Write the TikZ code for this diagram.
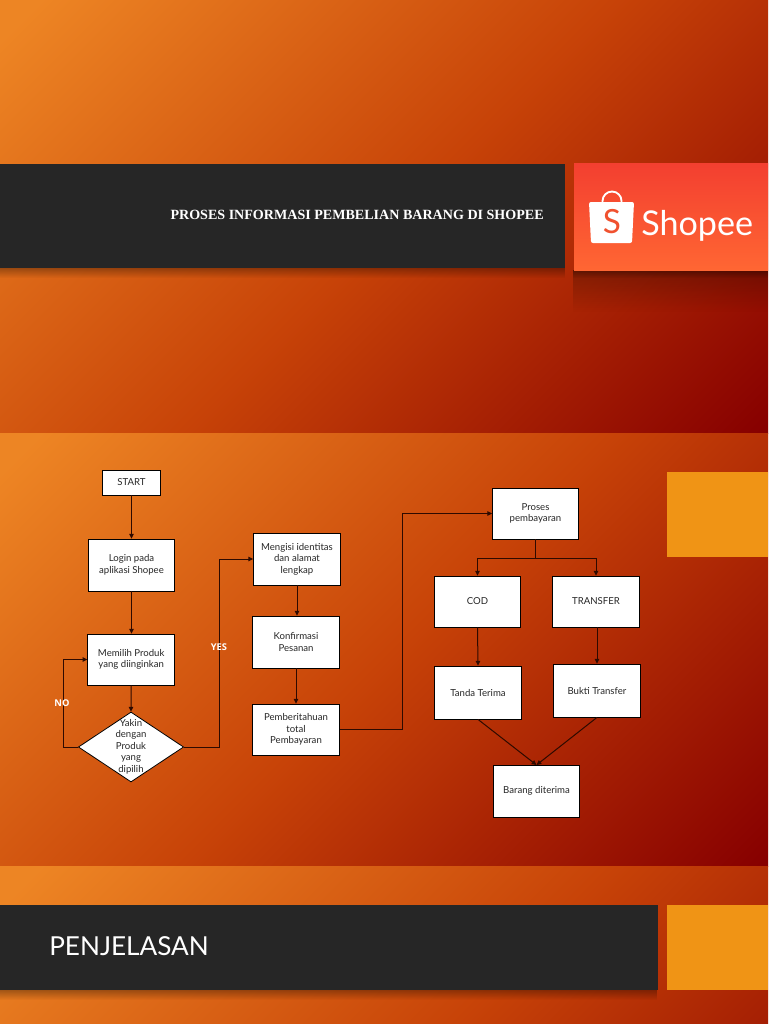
\documentclass[tikz,border=0pt]{standalone}
\usepackage{fontspec}
\setmainfont{Lato}
\newfontfamily\titlefont{Liberation Serif}
\newfontfamily\labelfont{Open Sans}
\usetikzlibrary{shapes.geometric,arrows.meta,fadings}
\definecolor{barcol}{HTML}{262626}
\definecolor{squarecol}{HTML}{F09415}
\definecolor{linecol}{HTML}{2E0A00}
\definecolor{logotop}{HTML}{F33F30}
\definecolor{logobot}{HTML}{FF6633}
\definecolor{bagS}{HTML}{F0512F}
\pgfdeclarehorizontalshading{slidegrad}{100bp}{
 rgb(0bp)=(0.93,0.52,0.14);
 rgb(17bp)=(0.93,0.52,0.14);
 rgb(51bp)=(0.78,0.26,0.03);
 rgb(85bp)=(0.53,0,0);
 rgb(100bp)=(0.53,0,0)}
\tikzset{
 x=0.75pt,y=-0.75pt,
 slide/.style={shading=slidegrad,shading angle=-45},
 flowbox/.style={draw=black,line width=0.6pt,fill=white,inner sep=0pt,align=center,font=\fontsize{7.2}{8.6}\selectfont,text=black!85},
 flowtext/.style={inner sep=0pt,align=center,font=\fontsize{7.2}{8.6}\selectfont,text=black!85},
 flowarrow/.style={draw=linecol,line width=0.75pt,-{Triangle[length=3.6pt,width=3.4pt]}},
 flowline/.style={draw=linecol,line width=0.75pt},
 branchlabel/.style={inner sep=0pt,text=white,font=\labelfont\fontsize{7}{8}\selectfont\bfseries},
 bar/.style={fill=barcol,draw=none},
 square/.style={fill=squarecol,draw=none},
 shadowstrip/.style={fill=black,opacity=0.3,path fading=south,draw=none},
}
\begin{document}
\begin{tikzpicture}
\useasboundingbox (0,0) rectangle (768,1024);
\begin{scope}
\clip (0,0) rectangle (768,1024);
\shade[slide] (0,0) rectangle (768,433);
\shade[slide] (0,433) rectangle (768,866);
\shade[slide] (0,866) rectangle (768,1299);
\end{scope}
% top band
\fill[shadowstrip] (0,268) rectangle (565,278);
\fill[bar] (0,164) rectangle (565,268);
\node[inner sep=0pt,anchor=east,text=white,font=\titlefont\fontsize{10.55}{12}\selectfont\bfseries] (title) at (544,215) {PROSES INFORMASI PEMBELIAN BARANG DI SHOPEE};
% logo
\fill[black,opacity=0.25,path fading=south] (573,270) rectangle (768,312);
\fill[black,opacity=0.3,path fading=south] (573,270) rectangle (768,278);
\shade[top color=logotop,bottom color=logobot,draw=none] (574,163) rectangle (768,270);
\draw[white,line width=1.4pt] (602.5,206) -- (602.5,201) arc[start angle=180,end angle=360,x radius=9.5,y radius=9.5] -- (621.5,206);
\fill[white,rounded corners=1.5pt] (589,202) -- (634,202) -- (632,243) -- (591,243) -- cycle;
\node[inner sep=0pt,text=bagS,font=\fontsize{25}{28}\selectfont] (bagletter) at (612,222) {S};
\node[inner sep=0pt,anchor=base west,text=white,font=\fontsize{25.6}{30}\selectfont] (brand) at (641,235) {Shopee};
% orange squares and bottom band
\fill[square] (667,472) rectangle (768,557);
\fill[square] (667,905) rectangle (768,990);
\fill[shadowstrip] (0,990) rectangle (658,1000);
\fill[bar] (0,905) rectangle (658,990);
\node[inner sep=0pt,anchor=west,text=white,font=\fontsize{19.6}{22}\selectfont] (heading) at (49,946) {PENJELASAN};
\begin{scope}[shift={(-0.5,0)}]
% flowchart nodes
\node[flowbox,minimum width=44pt,minimum height=18.75pt] (start) at (132,482.5) {START};
\node[flowbox,minimum width=64.5pt,minimum height=39pt] (login) at (132,565) {Login pada\\aplikasi Shopee};
\node[flowbox,minimum width=65.25pt,minimum height=38.25pt] (pilih) at (131.7,659.5) {Memilih Produk\\yang diinginkan};
\node[diamond,draw=black,line width=0.6pt,fill=white,inner sep=0pt,aspect=1.5,minimum width=79pt,minimum height=52.5pt] (yakin) at (131.5,747) {};
\node[flowtext] (yakintext) at (131.5,746.5) {Yakin\\dengan\\Produk\\yang\\dipilih};
\node[flowbox,minimum width=65.25pt,minimum height=39pt] (isi) at (297.5,559) {Mengisi identitas\\dan alamat\\lengkap};
\node[flowbox,minimum width=65.25pt,minimum height=39pt] (konf) at (296.5,642) {Konfirmasi\\Pesanan};
\node[flowbox,minimum width=65.25pt,minimum height=38.25pt] (total) at (296.5,729.5) {Pemberitahuan\\total\\Pembayaran};
\node[flowbox,minimum width=64.5pt,minimum height=38.25pt] (bayar) at (536,513.5) {Proses\\pembayaran};
\node[flowbox,minimum width=64.5pt,minimum height=38.25pt] (cod) at (478,601.5) {COD};
\node[flowbox,minimum width=65.25pt,minimum height=38.25pt] (tf) at (596.5,601.5) {TRANSFER};
\node[flowbox,minimum width=65.25pt,minimum height=39.75pt] (tanda) at (478.5,692.5) {Tanda Terima};
\node[flowbox,minimum width=65.25pt,minimum height=39.75pt] (bukti) at (597.5,690.5) {Bukti Transfer};
\node[flowbox,minimum width=64.5pt,minimum height=39pt] (barang) at (537,791) {Barang diterima};
% helper coordinates
\coordinate (noA) at (64,747);
\coordinate (noB) at (64,659.5);
\coordinate (yesA) at (220,747);
\coordinate (yesB) at (220,559);
\coordinate (payA) at (403,729.5);
\coordinate (payB) at (403,513.5);
\coordinate (split) at (536,558);
\coordinate (splitL) at (478,558);
\coordinate (splitR) at (596.5,558);
\coordinate (merge) at (537,765);
% connectors
\draw[flowarrow] (start.south) -- (login.north);
\draw[flowarrow] (login.south) -- (pilih.north -| login.south);
\draw[flowarrow] (pilih.south) -- (yakin.north);
\draw[flowarrow] (yakin.west) -- (noA) -- (noB) -- (pilih.west);
\draw[flowarrow] (yakin.east) -- (yesA) -- (yesB) -- (isi.west);
\draw[flowarrow] (isi.south) -- (konf.north -| isi.south);
\draw[flowarrow] (konf.south) -- (total.north);
\draw[flowarrow] (total.east) -- (payA) -- (payB) -- (bayar.west);
\draw[flowline] (bayar.south) -- (split);
\draw[flowarrow] (split) -- (splitL) -- (cod.north);
\draw[flowarrow] (split) -- (splitR) -- (tf.north);
\draw[flowarrow] (cod.south) -- (tanda.north);
\draw[flowarrow] (tf.south -| bukti.north) -- (bukti.north);
\draw[flowarrow] (tanda.south) -- (merge);
\draw[flowarrow] (bukti.south) -- (merge);
% labels sit on top of the connectors
\node[branchlabel] (yes) at (219.5,647) {YES};
\node[branchlabel] (no) at (62.5,703) {NO};
\end{scope}
\end{tikzpicture}
\end{document}
